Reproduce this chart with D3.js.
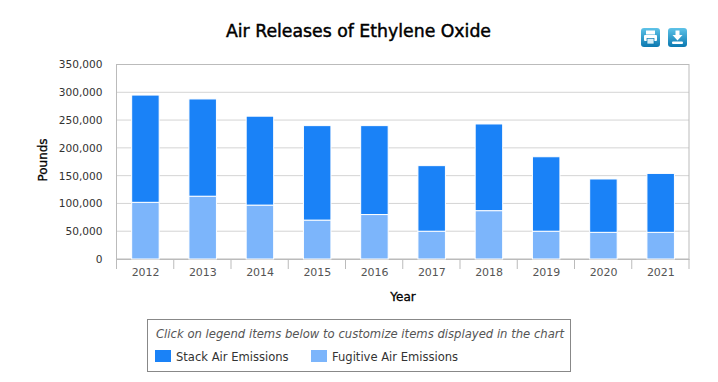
<!DOCTYPE html>
<html>
<head>
<meta charset="utf-8">
<script src="https://cdn.jsdelivr.net/npm/d3@7"></script>
<style>
    html, body {margin: 0; padding: 0; background: #fff;}
    text {font-family: "DejaVu Sans", sans-serif;}
</style>
</head>
<body>
<div id="chart"></div>
<script>
const years = ["2012", "2013", "2014", "2015", "2016", "2017", "2018", "2019", "2020", "2021"];
const stack_values = [193000, 175000, 160000, 170000, 160000, 118000, 156000, 134000, 96000, 106000];
const fugitive_values = [102000, 113000, 97000, 70000, 80000, 50000, 87000, 50000, 48000, 48000];
const y_ticks = [0, 50000, 100000, 150000, 200000, 250000, 300000, 350000];
const series_names = ["Stack Air Emissions", "Fugitive Air Emissions"];
const series_colors = ["#1a82f7", "#7cb5fb"];

const width = 718, height = 382;
const margin = {left: 116.5, right: 29, top: 64.5, bottom: 123};

const svg = d3.select("#chart").append("svg")
    .attr("width", width)
    .attr("height", height)
    .style("display", "block");

const xScale = d3.scaleBand()
    .domain(years)
    .range([margin.left, width - margin.right]);

const yScale = d3.scaleLinear()
    .domain([0, 350000])
    .range([height - margin.bottom, margin.top]);

// title
svg.append("text")
    .attr("x", 358.5)
    .attr("y", 37)
    .attr("text-anchor", "middle")
    .attr("font-size", 17.3)
    .attr("fill", "#000")
    .attr("stroke", "#000")
    .attr("stroke-width", 0.45)
    .text("Air Releases of Ethylene Oxide");

// grid and frame
svg.append("g").selectAll("line")
    .data(y_ticks.slice(1, -1))
    .enter()
    .append("line")
        .attr("x1", margin.left)
        .attr("x2", width - margin.right)
        .attr("y1", d => yScale(d))
        .attr("y2", d => yScale(d))
        .attr("stroke", "#d4d4d4");

svg.append("rect")
    .attr("x", margin.left)
    .attr("y", margin.top)
    .attr("width", width - margin.right - margin.left)
    .attr("height", height - margin.bottom - margin.top)
    .attr("fill", "none")
    .attr("stroke", "#bbb");

// y axis
const yAxis = svg.append("g")
    .attr("transform", `translate(${margin.left},0)`)
    .call(d3.axisLeft(yScale).tickValues(y_ticks).tickSize(0).tickPadding(14).tickFormat(d3.format(",")));
yAxis.select(".domain").remove();
yAxis.selectAll("text")
    .attr("font-size", 10.6)
    .attr("fill", "#333")
    .style("font-family", '"DejaVu Sans", sans-serif');

// x axis, ticks sit between the categories
const xAxis = svg.append("g")
    .attr("transform", `translate(0,${height - margin.bottom})`)
    .call(d3.axisBottom(xScale).tickSize(0).tickPadding(9));
xAxis.select(".domain").attr("stroke", "#bbb");
xAxis.selectAll("text")
    .attr("font-size", 11)
    .attr("fill", "#555")
    .attr("dx", 0.5)
    .style("font-family", '"DejaVu Sans", sans-serif');

svg.append("g").selectAll("line")
    .data(years.concat("end"))
    .enter()
    .append("line")
        .attr("x1", (d, i) => margin.left + i * xScale.bandwidth())
        .attr("x2", (d, i) => margin.left + i * xScale.bandwidth())
        .attr("y1", height - margin.bottom)
        .attr("y2", height - margin.bottom + 10)
        .attr("stroke", "#bbb");

// axis titles
svg.append("text")
    .attr("x", 403)
    .attr("y", 301)
    .attr("text-anchor", "middle")
    .attr("font-size", 12)
    .attr("fill", "#000")
    .attr("stroke", "#000")
    .attr("stroke-width", 0.3)
    .text("Year");

svg.append("text")
    .attr("transform", "translate(47,160) rotate(-90)")
    .attr("text-anchor", "middle")
    .attr("font-size", 12)
    .attr("fill", "#000")
    .attr("stroke", "#000")
    .attr("stroke-width", 0.3)
    .text("Pounds");

// bars
const bar_width = 27.5;
const bar_x = d => xScale(d) + (xScale.bandwidth() - bar_width) / 2 + 0.3;
const rows = years.map((y, i) => ({year: y, stack: stack_values[i], fugitive: fugitive_values[i]}));
const stacked = d3.stack().keys(["fugitive", "stack"])(rows);
const stacked_colors = [series_colors[1], series_colors[0]];

svg.append("g").selectAll("g")
    .data(stacked)
    .enter()
    .append("g")
        .attr("fill", (d, i) => stacked_colors[i])
    .selectAll("rect")
    .data(d => d)
    .enter()
    .append("rect")
        .attr("x", d => bar_x(d.data.year))
        .attr("y", d => yScale(d[1]))
        .attr("width", bar_width)
        .attr("height", d => yScale(d[0]) - yScale(d[1]))
        .attr("stroke", "#fff")
        .attr("stroke-width", 1);

// print and download buttons
const icon_gradient = svg.append("defs").append("linearGradient")
    .attr("id", "icon_grad")
    .attr("x1", 0).attr("x2", 0).attr("y1", 0).attr("y2", 1);
icon_gradient.append("stop").attr("offset", "0%").attr("stop-color", "#5fc3e8");
icon_gradient.append("stop").attr("offset", "100%").attr("stop-color", "#0a78b0");

const print_icon = svg.append("g").attr("transform", "translate(641,28)");
print_icon.append("rect").attr("width", 19).attr("height", 19).attr("rx", 3).attr("fill", "url(#icon_grad)");
print_icon.append("rect").attr("x", 5).attr("y", 2.5).attr("width", 9).attr("height", 4).attr("fill", "#fff");
print_icon.append("rect").attr("x", 3).attr("y", 7).attr("width", 13).attr("height", 6).attr("rx", 1).attr("fill", "#fff");
print_icon.append("rect").attr("x", 6).attr("y", 10.5).attr("width", 7).attr("height", 5.5).attr("fill", "#d5eef8").attr("stroke", "#0a78b0").attr("stroke-width", 0.7);

const download_icon = svg.append("g").attr("transform", "translate(668,28)");
download_icon.append("rect").attr("width", 19).attr("height", 19).attr("rx", 3).attr("fill", "url(#icon_grad)");
download_icon.append("path").attr("d", d3.line()([[7.5, 2.5], [11.5, 2.5], [11.5, 7], [14.5, 7], [9.5, 12.5], [4.5, 7], [7.5, 7]])).attr("fill", "#fff");
download_icon.append("rect").attr("x", 4).attr("y", 13.5).attr("width", 11).attr("height", 2.5).attr("rx", 1).attr("fill", "#fff");

// legend box
svg.append("rect")
    .attr("x", 147.5)
    .attr("y", 319.5)
    .attr("width", 423)
    .attr("height", 52)
    .attr("fill", "#fff")
    .attr("stroke", "#888");

svg.append("text")
    .attr("x", 156)
    .attr("y", 338)
    .attr("font-size", 11.63)
    .attr("font-style", "italic")
    .attr("fill", "#555")
    .text("Click on legend items below to customize items displayed in the chart");

const legend_x = [155, 311];
const legend = svg.append("g").selectAll("g")
    .data(series_names)
    .enter()
    .append("g")
        .attr("transform", (d, i) => `translate(${legend_x[i]},350)`);
legend.append("rect")
    .attr("width", 16)
    .attr("height", 12)
    .attr("fill", (d, i) => series_colors[i]);
legend.append("text")
    .attr("x", 21)
    .attr("y", 11)
    .attr("font-size", 11.55)
    .attr("fill", "#333")
    .text(d => d);
</script>
</body>
</html>
